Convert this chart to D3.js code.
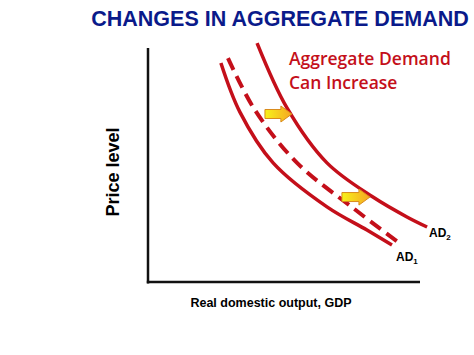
<!DOCTYPE html>
<html><head><meta charset="utf-8">
<script src="https://cdn.jsdelivr.net/npm/d3@7/dist/d3.min.js"></script>
<style>html,body{margin:0;padding:0;background:#fff;overflow:hidden}</style>
</head><body>
<svg id="c" width="474" height="355"></svg>
<script>
// Data (domain units 0-100)
const ad1X = [26.8, 33.8, 46.0, 65.8, 80.5, 89.7];
const ad1Y = [93.6, 72.6, 50.9, 32.1, 22.2, 15.8];
const dashX = [29.4, 39.3, 54.8, 75.4, 91.9];
const dashY = [95.7, 73.5, 50.9, 31.6, 17.1];
const ad2X = [40.1, 51.1, 65.8, 82.7, 95.2, 102.6];
const ad2Y = [102.1, 74.4, 50.9, 36.3, 27.8, 23.5];
const arrowStartX = [43.0, 71.3];
const arrowEndX = [52.9, 81.6];
const arrowY = [71.8, 36.3];
const labels = ["AD", "AD"];
const labelSubs = ["1", "2"];

const svg = d3.select("#c");
const x = d3.scaleLinear().domain([0, 100]).range([148, 420]);
const y = d3.scaleLinear().domain([0, 100]).range([282, 48]);

const red = "#c40f1a";

// title
svg.append("text").attr("x", 280).attr("y", 26).attr("text-anchor", "middle")
  .attr("font-family", "Liberation Sans, Arial, sans-serif").attr("font-weight", "bold")
  .attr("font-size", 21.5).attr("fill", "#0a1a8a").text("CHANGES IN AGGREGATE DEMAND");

// axes
svg.append("line").attr("x1", x(0)).attr("x2", x(0)).attr("y1", y(100)).attr("y2", y(0) + 1.5)
  .attr("stroke", "#111").attr("stroke-width", 2.5);
svg.append("line").attr("x1", x(0) - 1.2).attr("x2", x(100)).attr("y1", y(0)).attr("y2", y(0))
  .attr("stroke", "#111").attr("stroke-width", 2.5);

// axis titles
svg.append("text").attr("transform", `translate(119,${y(47)}) rotate(-90)`).attr("text-anchor", "middle")
  .attr("font-family", "Liberation Sans, Arial, sans-serif").attr("font-weight", "bold")
  .attr("font-size", 18).attr("fill", "#000").text("Price level");
svg.append("text").attr("x", 271).attr("y", 307).attr("text-anchor", "middle")
  .attr("font-family", "Liberation Sans, Arial, sans-serif").attr("font-weight", "bold")
  .attr("font-size", 12.5).attr("fill", "#000").text("Real domestic output, GDP");

const line = d3.line().x(d => x(d[0])).y(d => y(d[1])).curve(d3.curveCatmullRom.alpha(0.5));
const zip = (a, b) => a.map((v, i) => [v, b[i]]);

svg.append("path").attr("d", line(zip(ad1X, ad1Y))).attr("fill", "none")
  .attr("stroke", red).attr("stroke-width", 3.5);
svg.append("path").attr("d", line(zip(dashX, dashY))).attr("fill", "none")
  .attr("stroke", red).attr("stroke-width", 4).attr("stroke-dasharray", "13,7");
svg.append("path").attr("d", line(zip(ad2X, ad2Y))).attr("fill", "none")
  .attr("stroke", red).attr("stroke-width", 3.5);

// arrows
const defs = svg.append("defs");
const g = defs.append("linearGradient").attr("id", "ag").attr("x1", 0).attr("x2", 1).attr("y1", 0).attr("y2", 0);
g.append("stop").attr("offset", "0%").attr("stop-color", "#f7f21a");
g.append("stop").attr("offset", "100%").attr("stop-color", "#f5a623");
arrowY.forEach((v, i) => {
  const x0 = x(arrowStartX[i]), x1 = x(arrowEndX[i]), cy = y(v);
  const hw = 4.5, hh = 8, head = 11;
  const pts = [[x0, cy - hw], [x1 - head, cy - hw], [x1 - head, cy - hh], [x1, cy], [x1 - head, cy + hh], [x1 - head, cy + hw], [x0, cy + hw]];
  svg.append("path").attr("d", "M" + pts.map(p => p.join(",")).join("L") + "Z")
    .attr("fill", "url(#ag)").attr("stroke", "#d98a1c").attr("stroke-width", 1);
});

// curve labels
const labPos = [[396, 261], [429, 237]];
labels.forEach((l, i) => {
  const t = svg.append("text").attr("x", labPos[i][0]).attr("y", labPos[i][1])
    .attr("font-family", "Liberation Sans, Arial, sans-serif").attr("font-weight", "bold")
    .attr("font-size", 12).attr("fill", "#000");
  t.append("tspan").text(l);
  t.append("tspan").attr("font-size", 8).attr("dy", 3).text(labelSubs[i]);
});

// annotation
svg.append("text").attr("x", 289).attr("y", 65).attr("font-family", "Open Sans, sans-serif")
  .attr("font-weight", 600).attr("font-size", 17.5).attr("fill", red).text("Aggregate Demand");
svg.append("text").attr("x", 289).attr("y", 89).attr("font-family", "Open Sans, sans-serif")
  .attr("font-weight", 600).attr("font-size", 17.5).attr("fill", red).text("Can Increase");
</script>
</body></html>
